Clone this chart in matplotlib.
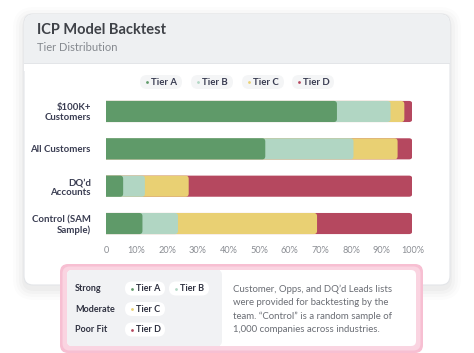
import matplotlib
matplotlib.use("Agg")
import matplotlib.pyplot as plt
from matplotlib.patches import FancyBboxPatch, Rectangle
import numpy as np

categories = ["$100K+\nCustomers", "All Customers", "DQ\u2019d\nAccounts", "Control (SAM\nSample)"]
tiers = ["Tier A", "Tier B", "Tier C", "Tier D"]
tier_a = [75.4, 52.0, 5.6, 11.9]
tier_b = [17.5, 28.8, 7.1, 11.6]
tier_c = [4.5, 14.4, 14.3, 45.4]
tier_d = [2.6, 4.8, 73.0, 31.1]
xticks = [0, 10, 20, 30, 40, 50, 60, 70, 80, 90, 100]
xticklabels = ["0", "10%", "20%", "30%", "40%", "50%", "60%", "70%", "80%", "90%", "100%"]
fit_groups = ["Strong", "Moderate", "Poor Fit"]
fit_tiers = [["Tier A", "Tier B"], ["Tier C"], ["Tier D"]]
note_lines = ["Customer, Opps, and DQ\u2019d Leads lists",
              "were provided for backtesting by the",
              "team. \u201cControl\u201d is a random sample of",
              "1,000 companies across industries."]

colors = {"Tier A": "#5f9a69", "Tier B": "#b1d6c3", "Tier C": "#e9d073", "Tier D": "#b5485f"}
FONT = ["Lato", "DejaVu Sans"]
plt.rcParams["font.family"] = FONT

W, H = 474, 353
fig = plt.figure(figsize=(W / 100, H / 100), dpi=100)
fig.patch.set_facecolor("white")

bg = fig.add_axes([0, 0, 1, 1])
bg.set_xlim(0, W)
bg.set_ylim(H, 0)
bg.axis("off")

def rbox(ax, x0, y0, x1, y1, r, fc, ec="none", lw=0, z=1, alpha=1.0):
    p = FancyBboxPatch((x0 + r, y0 + r), (x1 - x0) - 2 * r, (y1 - y0) - 2 * r,
                       boxstyle=f"round,pad={r}", fc=fc, ec=ec, lw=lw, zorder=z, alpha=alpha)
    ax.add_patch(p)
    return p

# card shadow
for i, a in enumerate([0.025, 0.02, 0.015, 0.01]):
    d = 2 + i * 3
    rbox(bg, 24 - d, 14 - d + 4, 450 + d, 285 + d + 4, 10 + d, "#000000", z=0.5, alpha=a)
rbox(bg, 24, 14, 450, 285, 9, "white", ec="#e3e5e8", lw=0.8, z=1)
rbox(bg, 24.5, 14.5, 449.5, 70, 8.5, "#eef0f2", z=1.1)
bg.add_patch(Rectangle((24.5, 62.5), 425, 8, fc="white", ec="none", zorder=1.16))
bg.plot([24.5, 449.5], [62.5, 62.5], color="#e3e5e8", lw=0.7, zorder=1.2)

bg.text(37, 30, "ICP Model Backtest", fontsize=10.5, fontweight="bold", color="#3f4248",
        va="center", ha="left", zorder=3)
bg.text(37, 47.5, "Tier Distribution", fontsize=8.0, color="#85898f", va="center", ha="left", zorder=3)

# legend pills
leg_centers = [161, 212, 263, 313]
for t, cx in zip(tiers, leg_centers):
    rbox(bg, cx - 21, 75, cx + 21, 89, 7, "#f4f5f6", z=2)
    bg.plot([cx - 14], [82], marker="o", ms=2.0, color=colors[t], mec="none", zorder=3)
    bg.text(cx - 10, 82.3, t, fontsize=6.9, color="#3a3d52", va="center", ha="left",
            fontweight="bold", zorder=3)

# chart axes
ax = fig.add_axes([106 / W, 1 - 242.2 / H, 306.3 / W, 149.4 / H])
ax.set_facecolor("none")
y = np.arange(len(categories))
bar_h = 0.565
series = [tier_a, tier_b, tier_c, tier_d]
cum = np.cumsum(np.array(series), axis=0)
# px per data unit for rounding aspect
px_x = 306.3 / 100.0
px_y = 149.4 / len(categories)
r_px = 3.2
for k in range(len(tiers) - 1, -1, -1):
    t = tiers[k]
    for i in range(len(categories)):
        end = cum[k, i]
        start = -5.0
        p = FancyBboxPatch((start, y[i] - bar_h / 2), end - start, bar_h,
                           boxstyle=f"round,pad=0,rounding_size={r_px / px_x}",
                           mutation_aspect=px_x / px_y,
                           fc=colors[t], ec="none", zorder=2 + (len(tiers) - k) * 0.01)
        ax.add_patch(p)
ax.set_xlim(0, 100)
ax.set_ylim(len(categories) - 0.5, -0.5)
ax.set_yticks(y)
ax.set_yticklabels(categories, fontsize=6.9, color="#3a3d52", fontweight="bold", linespacing=1.1)
ax.set_xticks(xticks)
ax.set_xticklabels(xticklabels, fontsize=6.6, color="#8a8d93")
ax.tick_params(axis="both", length=0)
ax.tick_params(axis="y", pad=11)
ax.tick_params(axis="x", pad=2.5)
for s in ax.spines.values():
    s.set_visible(False)

# bottom info box
rbox(bg, 60, 264, 423, 353, 8, "#f7bfd2", z=4)
rbox(bg, 62.5, 266.5, 420.5, 350.5, 7, "#fad4e1", z=4.05)
rbox(bg, 67, 270, 416, 346, 5, "white", z=4.1)
rbox(bg, 67, 270, 222, 346, 5, "#f1f2f4", z=4.2)
bg.add_patch(Rectangle((212, 270), 8, 76, fc="#f1f2f4", ec="none", zorder=4.25))

row_y = [288.5, 309, 329.5]
for g, ts, ry in zip(fit_groups, fit_tiers, row_y):
    bg.text(75, ry, g, fontsize=6.5, color="#2f3140", va="center", ha="left", fontweight="bold", zorder=5)
    cx = 145
    for t in ts:
        rbox(bg, cx - 20, ry - 7, cx + 20, ry + 7, 7, "white", z=4.6)
        bg.plot([cx - 13], [ry], marker="o", ms=2.0, color=colors[t], mec="none", zorder=5)
        bg.text(cx - 9, ry + 0.3, t, fontsize=6.5, color="#2f3140", va="center", ha="left",
                fontweight="bold", zorder=5)
        cx += 44

for i, line in enumerate(note_lines):
    bg.text(233, 289.3 + i * 13.3, line, fontsize=6.9, color="#6a6d74", va="center", ha="left", zorder=5)

fig.savefig("out.png", dpi=100, facecolor="white")
